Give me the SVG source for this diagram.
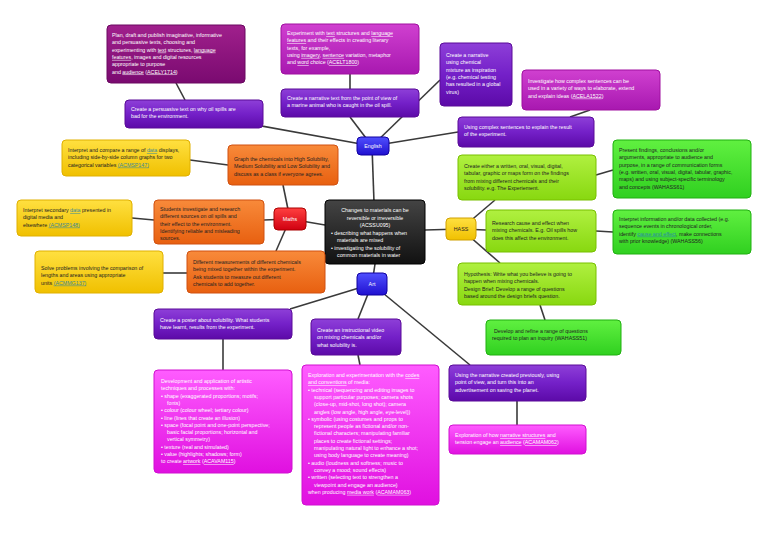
<svg xmlns="http://www.w3.org/2000/svg" width="768" height="543" viewBox="0 0 768 543">
<defs>
<linearGradient id="gPur" x1="0" y1="0" x2="0" y2="1"><stop offset="0" stop-color="#8e3fd8"/><stop offset="0.5" stop-color="#7420c8"/><stop offset="1" stop-color="#5c0aa8"/></linearGradient>
<linearGradient id="gDm" x1="0" y1="0" x2="0" y2="1"><stop offset="0" stop-color="#a0208c"/><stop offset="1" stop-color="#7a0a70"/></linearGradient>
<linearGradient id="gMag" x1="0" y1="0" x2="0" y2="1"><stop offset="0" stop-color="#d040d0"/><stop offset="1" stop-color="#a818b0"/></linearGradient>
<linearGradient id="gPink" x1="0" y1="0" x2="0" y2="1"><stop offset="0" stop-color="#ff5cff"/><stop offset="1" stop-color="#e010e0"/></linearGradient>
<linearGradient id="gOr" x1="0" y1="0" x2="0" y2="1"><stop offset="0" stop-color="#f88a3a"/><stop offset="1" stop-color="#e86010"/></linearGradient>
<linearGradient id="gYel" x1="0" y1="0" x2="0" y2="1"><stop offset="0" stop-color="#ffe040"/><stop offset="1" stop-color="#f0c000"/></linearGradient>
<linearGradient id="gLg" x1="0" y1="0" x2="0" y2="1"><stop offset="0" stop-color="#b0f040"/><stop offset="1" stop-color="#88d810"/></linearGradient>
<linearGradient id="gGr" x1="0" y1="0" x2="0" y2="1"><stop offset="0" stop-color="#60f040"/><stop offset="1" stop-color="#30d020"/></linearGradient>
<linearGradient id="gBlk" x1="0" y1="0" x2="0" y2="1"><stop offset="0" stop-color="#444"/><stop offset="1" stop-color="#111"/></linearGradient>
<linearGradient id="gBlue" x1="0" y1="0" x2="0" y2="1"><stop offset="0" stop-color="#5050ff"/><stop offset="1" stop-color="#2010d0"/></linearGradient>
<linearGradient id="gRed" x1="0" y1="0" x2="0" y2="1"><stop offset="0" stop-color="#ff4040"/><stop offset="1" stop-color="#d00010"/></linearGradient>
</defs>
<style>
text{font-family:"Liberation Sans",Roboto,sans-serif;font-size:5.3px}
.w{fill:#fff}.k{fill:#222}
.u{text-decoration:underline}
rect{rx:4;ry:4}
.pur{fill:url(#gPur);stroke:#5a0a98;stroke-width:1}
.dm{fill:url(#gDm);stroke:#6a0860;stroke-width:1}
.mag{fill:url(#gMag);stroke:#a010a0;stroke-width:1}
.pink{fill:url(#gPink);stroke:#d010d0;stroke-width:1}
.or{fill:url(#gOr);stroke:#d05010;stroke-width:1}
.yel{fill:url(#gYel);stroke:#e0b000;stroke-width:1}
.lg{fill:url(#gLg);stroke:#78c000;stroke-width:1}
.gr{fill:url(#gGr);stroke:#20b010;stroke-width:1}
#connectors line{stroke:#3a3a3a;stroke-width:1.6}
</style>
<rect x="0" y="0" width="768" height="543" fill="#fff"/>
<g id="connectors">
<line x1="375" y1="230" x2="372" y2="146"/>
<line x1="325" y1="225" x2="290" y2="219"/>
<line x1="425" y1="230" x2="461" y2="229"/>
<line x1="375" y1="264" x2="372" y2="284"/>
<line x1="372" y1="146" x2="195" y2="114"/>
<line x1="176" y1="83" x2="185" y2="100"/>
<line x1="372" y1="146" x2="350" y2="117"/>
<line x1="350" y1="74" x2="350" y2="89"/>
<line x1="372" y1="146" x2="440" y2="80"/>
<line x1="372" y1="146" x2="458" y2="132"/>
<line x1="590" y1="110" x2="570" y2="117"/>
<line x1="290" y1="219" x2="283" y2="185"/>
<line x1="290" y1="219" x2="264" y2="220"/>
<line x1="290" y1="219" x2="276" y2="251"/>
<line x1="228" y1="165" x2="190" y2="160"/>
<line x1="154" y1="220" x2="132" y2="218"/>
<line x1="187" y1="273" x2="163" y2="273"/>
<line x1="461" y1="229" x2="495" y2="200"/>
<line x1="461" y1="229" x2="486" y2="230"/>
<line x1="461" y1="229" x2="500" y2="263"/>
<line x1="596" y1="175" x2="613" y2="170"/>
<line x1="596" y1="231" x2="613" y2="232"/>
<line x1="540" y1="305" x2="545" y2="320"/>
<line x1="372" y1="284" x2="290" y2="309"/>
<line x1="372" y1="284" x2="358" y2="319"/>
<line x1="372" y1="284" x2="470" y2="365"/>
<line x1="223" y1="339" x2="223" y2="370"/>
<line x1="358" y1="355" x2="360" y2="365"/>
<line x1="517" y1="401" x2="517" y2="425"/>
</g>
<g id="center"><rect x="325" y="200" width="100" height="64" fill="url(#gBlk)" stroke="#000"/>
<text class="w" text-anchor="middle"><tspan x="375" y="212">Changes to materials can be</tspan><tspan x="375" y="219.5">reversible or irreversible</tspan><tspan x="375" y="227">(ACSSU095)</tspan></text>
<text class="w"><tspan x="331" y="234.5">•  describing what happens when</tspan><tspan x="337" y="241.5">materials are mixed</tspan><tspan x="331" y="249.5">•  investigating the solubility of</tspan><tspan x="337" y="256.5">common materials in water</tspan></text></g>
<g id="english"><rect x="357" y="137" width="32" height="18" fill="url(#gBlue)" stroke="#1000a0"/><text class="w" x="373" y="148" text-anchor="middle">English</text></g>
<g id="maths"><rect x="274" y="208" width="32" height="22" fill="url(#gRed)" stroke="#a00"/><text class="w" x="290" y="221" text-anchor="middle">Maths</text></g>
<g id="hass"><rect x="446" y="218" width="30" height="22" fill="url(#gYel)" stroke="#d0a000"/><text class="k" x="461" y="231" text-anchor="middle">HASS</text></g>
<g id="art"><rect x="357" y="273" width="30" height="22" fill="url(#gBlue)" stroke="#1000a0"/><text class="w" x="372" y="286" text-anchor="middle">Art</text></g>

<g id="e1"><rect class="dm" x="107" y="25" width="138" height="58"/><text class="w"><tspan x="112" y="37">Plan, draft and publish imaginative, informative</tspan><tspan x="112" y="44.3">and persuasive texts, choosing and</tspan><tspan x="112" y="51.6">experimenting with <tspan class="u">text</tspan> structures, <tspan class="u">language</tspan></tspan><tspan x="112" y="58.9"><tspan class="u">features</tspan>, images and digital resources</tspan><tspan x="112" y="66.2">appropriate to purpose</tspan><tspan x="112" y="73.5">and <tspan class="u">audience</tspan> (<tspan class="u">ACELY1714</tspan>)</tspan></text></g>
<g id="e2"><rect class="pur" x="125" y="100" width="138" height="28"/><text class="w"><tspan x="131" y="111">Create a persuasive text on why oil spills are</tspan><tspan x="131" y="118.3">bad for the environment.</tspan></text></g>
<g id="e3"><rect class="mag" x="281" y="24" width="138" height="50"/><text class="w"><tspan x="287" y="35">Experiment with <tspan class="u">text</tspan> structures and <tspan class="u">language</tspan></tspan><tspan x="287" y="42.3"><tspan class="u">features</tspan> and their effects in creating literary</tspan><tspan x="287" y="49.6">texts, for example,</tspan><tspan x="287" y="56.9">using <tspan class="u">imagery</tspan>, <tspan class="u">sentence</tspan> variation, metaphor</tspan><tspan x="287" y="64.2">and <tspan class="u">word</tspan> choice (<tspan class="u">ACELT1800</tspan>)</tspan></text></g>
<g id="e4"><rect class="pur" x="281" y="89" width="138" height="28"/><text class="w"><tspan x="287" y="100">Create a narrative text from the point of view of</tspan><tspan x="287" y="107.3">a marine animal who is caught in the oil spill.</tspan></text></g>
<g id="e5"><rect class="pur" x="440" y="43" width="72" height="63"/><text class="w"><tspan x="446" y="57">Create a narrative</tspan><tspan x="446" y="64.3">using chemical</tspan><tspan x="446" y="71.6">mixture as inspiration</tspan><tspan x="446" y="78.9">(e.g. chemical testing</tspan><tspan x="446" y="86.2">has resulted in a global</tspan><tspan x="446" y="93.5">virus)</tspan></text></g>
<g id="e6"><rect class="mag" x="522" y="70" width="138" height="40"/><text class="w"><tspan x="528" y="83">Investigate how complex sentences can be</tspan><tspan x="528" y="90.3">used in a variety of ways to elaborate, extend</tspan><tspan x="528" y="97.6">and explain ideas (<tspan class="u">ACELA1522</tspan>)</tspan></text></g>
<g id="e7"><rect class="pur" x="458" y="117" width="136" height="30"/><text class="w"><tspan x="464" y="129">Using complex sentences to explain the result</tspan><tspan x="464" y="136.3">of the experiment.</tspan></text></g>

<g id="m1"><rect class="or" x="228" y="145" width="110" height="40"/><text class="k"><tspan x="234" y="161">Graph the chemicals into High Solubility,</tspan><tspan x="234" y="168.3">Medium Solubility and Low Solubility and</tspan><tspan x="234" y="175.6">discuss as a class if everyone agrees.</tspan></text></g>
<g id="m2"><rect class="or" x="154" y="200" width="110" height="44"/><text class="k"><tspan x="160" y="211">Students investigate and research</tspan><tspan x="160" y="218.3">different sources on oil spills and</tspan><tspan x="160" y="225.6">their effect to the environment.</tspan><tspan x="160" y="232.9">Identifying reliable and misleading</tspan><tspan x="160" y="240.2">sources.</tspan></text></g>
<g id="m3"><rect class="or" x="187" y="251" width="138" height="42"/><text class="k"><tspan x="193" y="264">Different measurements of different chemicals</tspan><tspan x="193" y="271.3">being mixed together within the experiment.</tspan><tspan x="193" y="278.6">Ask students to measure out different</tspan><tspan x="193" y="285.9">chemicals to add together.</tspan></text></g>
<g id="y1"><rect class="yel" x="62" y="140" width="128" height="36"/><text class="k"><tspan x="68" y="152">Interpret and compare a range of <tspan class="u" fill="#3a8a9a">data</tspan> displays,</tspan><tspan x="68" y="159.3">including side-by-side column graphs for two</tspan><tspan x="68" y="166.6">categorical variables <tspan class="u" fill="#3a8a9a">(ACMSP147)</tspan></tspan></text></g>
<g id="y2"><rect class="yel" x="17" y="200" width="115" height="36"/><text class="k"><tspan x="23" y="212">Interpret secondary <tspan class="u" fill="#3a8a9a">data</tspan> presented in</tspan><tspan x="23" y="219.3">digital media and</tspan><tspan x="23" y="226.6">elsewhere <tspan class="u" fill="#3a8a9a">(ACMSP148)</tspan></tspan></text></g>
<g id="y3"><rect class="yel" x="35" y="251" width="128" height="42"/><text class="k"><tspan x="41" y="270">Solve problems involving the comparison of</tspan><tspan x="41" y="277.3">lengths and areas using appropriate</tspan><tspan x="41" y="284.6">units <tspan class="u" fill="#3a8a9a">(ACMMG137)</tspan></tspan></text></g>

<g id="h1"><rect class="lg" x="458" y="155" width="138" height="45"/><text class="k"><tspan x="464" y="168">Create either a written, oral, visual, digital,</tspan><tspan x="464" y="175.3">tabular, graphic or maps form on the findings</tspan><tspan x="464" y="182.6">from mixing different chemicals and their</tspan><tspan x="464" y="189.9">solubility. e.g. The Experiement.</tspan></text></g>
<g id="h2"><rect class="lg" x="486" y="210" width="110" height="42"/><text class="k"><tspan x="492" y="225">Research cause and effect when</tspan><tspan x="492" y="232.3">mixing chemicals. E.g. Oil spills how</tspan><tspan x="492" y="239.6">does this affect the environment.</tspan></text></g>
<g id="h3"><rect class="lg" x="458" y="263" width="138" height="42"/><text class="k"><tspan x="464" y="276">Hypothesis: Write what you believe is going to</tspan><tspan x="464" y="283.3">happen when mixing chemicals.</tspan><tspan x="464" y="291">Design Brief: Develop a range of questions</tspan><tspan x="464" y="298.3">based around the design briefs question.</tspan></text></g>
<g id="h4"><rect class="gr" x="486" y="320" width="135" height="35"/><text class="k"><tspan x="494" y="333">Develop and refine a range of questions</tspan><tspan x="492" y="340.3">required to plan an inquiry (WAHASS51)</tspan></text></g>
<g id="g1"><rect class="gr" x="613" y="140" width="138" height="58"/><text class="k"><tspan x="619" y="152">Present findings, conclusions and/or</tspan><tspan x="619" y="159.3">arguments, appropriate to audience and</tspan><tspan x="619" y="166.6">purpose, in a range of communication forms</tspan><tspan x="619" y="173.9">(e.g. written, oral, visual, digital, tabular, graphic,</tspan><tspan x="619" y="181.2">maps) and using subject-specific terminology</tspan><tspan x="619" y="188.5">and concepts (WAHASS61)</tspan></text></g>
<g id="g2"><rect class="gr" x="613" y="210" width="138" height="44"/><text class="k"><tspan x="619" y="221">Interpret information and/or data collected (e.g.</tspan><tspan x="619" y="228.3">sequence events in chronological order,</tspan><tspan x="619" y="235.6">identify <tspan class="u" fill="#2a8aaa">cause and effect</tspan>, make connections</tspan><tspan x="619" y="242.9">with prior knowledge) (WAHASS56)</tspan></text></g>

<g id="a1"><rect class="pur" x="154" y="309" width="138" height="30"/><text class="w"><tspan x="160" y="322">Create a poster about solubility. What students</tspan><tspan x="160" y="329.3">have learnt, results from the experiment.</tspan></text></g>
<g id="a2"><rect class="pur" x="311" y="319" width="90" height="36"/><text class="w"><tspan x="317" y="332">Create an instructional video</tspan><tspan x="317" y="339.3">on mixing chemicals and/or</tspan><tspan x="317" y="346.6">what solubility is.</tspan></text></g>
<g id="a3"><rect class="pur" x="449" y="365" width="137" height="36"/><text class="w"><tspan x="455" y="377">Using the narrative created previously, using</tspan><tspan x="455" y="384.3">point of view, and turn this into an</tspan><tspan x="455" y="391.6">advertisement on saving the planet.</tspan></text></g>
<g id="p1"><rect class="pink" x="154" y="370" width="138" height="103"/><text class="w"><tspan x="161" y="383">Development and application of artistic</tspan><tspan x="161" y="390.3">techniques and processes with:</tspan><tspan x="161" y="397.6">•  shape (exaggerated proportions; motifs;</tspan><tspan x="167" y="404.9">fonts)</tspan><tspan x="161" y="412.2">•  colour (colour wheel; tertiary colour)</tspan><tspan x="161" y="419.5">•  line (lines that create an illusion)</tspan><tspan x="161" y="426.8">•  space (focal point and one-point perspective;</tspan><tspan x="167" y="434.1">basic facial proportions; horizontal and</tspan><tspan x="167" y="441.4">vertical symmetry)</tspan><tspan x="161" y="448.7">•  texture (real and simulated)</tspan><tspan x="161" y="456">•  value (highlights; shadows; form)</tspan><tspan x="161" y="463.3">to create <tspan class="u">artwork</tspan> (<tspan class="u">ACAVAM115</tspan>)</tspan></text></g>
<g id="p2"><rect class="pink" x="302" y="365" width="137" height="140"/><text class="w"><tspan x="308" y="377">Exploration and experimentation with the <tspan class="u">codes</tspan></tspan><tspan x="308" y="384.3"><tspan class="u">and conventions</tspan> of media:</tspan><tspan x="308" y="391.6">•  technical (sequencing and editing images to</tspan><tspan x="314" y="398.9">support particular purposes; camera shots</tspan><tspan x="314" y="406.2">(close-up, mid-shot, long shot); camera</tspan><tspan x="314" y="413.5">angles (low angle, high angle, eye-level))</tspan><tspan x="308" y="420.8">•  symbolic (using costumes and props to</tspan><tspan x="314" y="428.1">represent people as fictional and/or non-</tspan><tspan x="314" y="435.4">fictional characters; manipulating familiar</tspan><tspan x="314" y="442.7">places to create fictional settings;</tspan><tspan x="314" y="450">manipulating natural light to enhance a shot;</tspan><tspan x="314" y="457.3">using body language to create meaning)</tspan><tspan x="308" y="464.6">•  audio (loudness and softness; music to</tspan><tspan x="314" y="471.9">convey a mood; sound effects)</tspan><tspan x="308" y="479.2">•  written (selecting text to strengthen a</tspan><tspan x="314" y="486.5">viewpoint and engage an audience)</tspan><tspan x="308" y="493.8">when producing <tspan class="u">media work</tspan> (<tspan class="u">ACAMAM063</tspan>)</tspan></text></g>
<g id="p3"><rect class="pink" x="449" y="425" width="137" height="29"/><text class="w"><tspan x="455" y="437">Exploration of how <tspan class="u">narrative structures</tspan> and</tspan><tspan x="455" y="444.3">tension engage an <tspan class="u">audience</tspan> (<tspan class="u">ACAMAM062</tspan>)</tspan></text></g>
</svg>
